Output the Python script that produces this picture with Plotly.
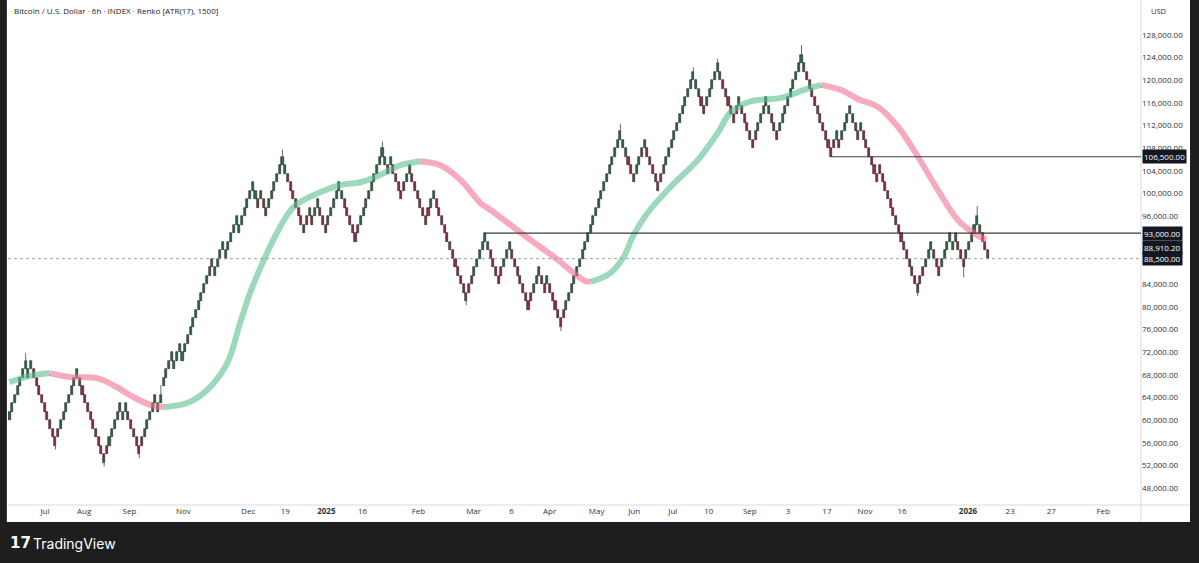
import plotly.graph_objects as go

# ---------------- data ----------------
BRICK = 1500
# Renko reversal levels (brick extremes)
pivots = [58500, 70500, 67500, 70500, 55500, 69000, 52500, 63000, 60000, 63000,
          54000, 64500, 61500, 64500, 72000, 69000, 73500, 70500, 88500, 85500,
          91500, 88500, 96000, 93000, 102000, 97500, 100500, 96000, 106500, 93000,
          97500, 94500, 99000, 93000, 102000, 91500, 108000, 103500, 106500, 99000,
          105000, 94500, 100500, 81000, 93000, 84000, 91500, 79500, 87000, 82500,
          85500, 76500, 111000, 102000, 109500, 100500, 121500, 114000, 123000, 112500,
          117000, 108000, 117000, 109500, 124500, 106500, 111000, 108000, 115500, 109500,
          112500, 102000, 105000, 82500, 91500, 85500, 93000, 90000, 93000, 87000,
          96000, 88500]

# wicks beyond the brick at a reversal: (pivot number, wick extreme)
wick_pivot = [1, 4, 6, 10, 13, 28, 36, 43, 51, 52, 56, 58, 64, 73, 79, 80]
wick_price = [71800, 54800, 51800, 53300, 66200, 107800, 109200, 80300, 75700, 112300,
              122300, 123800, 126200, 81900, 85200, 97800]

# smooth moving average, sampled (brick index, price)
ma_idx = [0, 7.6, 15, 22.4, 32.4, 39.8, 45.7, 52, 56.9, 65.7, 73.1, 80.6, 85.4, 89.1,
          92.8, 97.6, 105, 112.4, 122.4, 129.8, 137.2, 144.6, 152, 159.4, 166.9, 174.3,
          178, 190.2, 202.8, 212.4, 215, 222.4, 227.2, 230.9, 236.1, 244.6, 254.6, 262,
          266.9, 274.3, 285.4, 293.9, 300.2, 307.6, 313.9, 321.3, 328.7, 336.1, 343.5,
          350.9, 356.9, 361.3]
ma_val = [66700, 67800, 68300, 67600, 67400, 65800, 64100, 62700, 62300, 63000, 65300,
          70100, 77300, 82600, 86850, 91800, 97600, 99700, 101500, 102000, 103300, 105000,
          105700, 105000, 102400, 98300, 97100, 92700, 88300, 84700, 84400, 86000, 88800,
          92700, 96600, 101200, 105900, 110700, 114400, 116300, 116900, 118300, 119200,
          118300, 116700, 115300, 111800, 106500, 100600, 95300, 93000, 91800]

tick_idx = [13.1, 27.6, 44.4, 64.3, 88.3, 102, 117.2, 130.6, 151.3, 171.7, 185.7, 199.8,
            217.2, 231.1, 245.4, 258.7, 273.9, 288, 302.4, 316.5, 330.2, 354.6, 370.2,
            385.4, 404.6]
tick_text = ["Jul", "Aug", "Sep", "Nov", "Dec", "19", "<b>2025</b>", "16", "Feb", "Mar", "6",
             "Apr", "May", "Jun", "Jul", "10", "Sep", "3", "17", "Nov", "16", "<b>2026</b>",
             "23", "27", "Feb"]
price_ticks = [48000, 52000, 56000, 60000, 64000, 68000, 72000, 76000, 80000, 84000,
               96000, 100000, 104000, 108000, 112000, 116000, 120000, 124000, 128000]
level_lines = [106500, 93000]
level_line_pivot = [65, 44]
last_price = 88910.20
title_text = "Bitcoin / U.S. Dollar · 6h · INDEX · Renko [ATR(17), 1500]"

# ---------------- build bricks ----------------
bottoms, tops, closes, pivot_brick = [], [], [], [0]
for k in range(1, len(pivots)):
    a, b = pivots[k - 1], pivots[k]
    if b > a:
        for lo in range(a + BRICK, b - BRICK + 1, BRICK):
            bottoms.append(lo); tops.append(lo + BRICK); closes.append(lo + BRICK)
    else:
        for hi in range(a - BRICK, b + BRICK - 1, -BRICK):
            tops.append(hi); bottoms.append(hi - BRICK); closes.append(hi - BRICK)
    pivot_brick.append(len(closes) - 1)
N = len(closes)
idx = list(range(N))
last_close = closes[-1]

# colour bricks: close vs fast EMA
alpha = 2 / (8 + 1)
ema = closes[0]
is_green = []
for c in closes:
    ema = alpha * c + (1 - alpha) * ema
    is_green.append(c >= ema)

# axis geometry (plot area 8..1141 px, first brick 9.5 px, last 988 px)
W = (988 - 9.5) / (N - 1)
xmin = -(9.5 - 8) / W
xmax = (N - 1) + (1141 - 988) / W

fig = go.Figure()

# wicks
wx, wy = [], []
for pv, wp in zip(wick_pivot, wick_price):
    b = pivot_brick[pv]
    edge = tops[b] if wp > tops[b] else bottoms[b]
    wx += [b, b, None]
    wy += [edge, wp, None]
fig.add_trace(go.Scatter(x=wx, y=wy, mode="lines", line=dict(color="#6b6b6b", width=1),
                         hoverinfo="skip", showlegend=False))

GREEN, RED = "#2f6b46", "#922f42"
for flag, col in ((True, GREEN), (False, RED)):
    xs = [i for i in idx if is_green[i] == flag]
    fig.add_trace(go.Bar(
        x=xs, y=[tops[i] - bottoms[i] for i in xs], base=[bottoms[i] for i in xs],
        width=0.76, marker=dict(color=col, line=dict(color="#1b1b1b", width=0.6)),
        hoverinfo="skip", showlegend=False))

# moving average, green rising / pink falling
segs = []
cur = [0]
cur_up = ma_val[1] >= ma_val[0]
for i in range(1, len(ma_val)):
    up = ma_val[i] >= ma_val[i - 1]
    if up != cur_up:
        segs.append((cur_up, cur))
        cur = [i - 1]
        cur_up = up
    cur.append(i)
segs.append((cur_up, cur))
for up, ids in segs:
    fig.add_trace(go.Scatter(
        x=[ma_idx[i] for i in ids], y=[ma_val[i] for i in ids], mode="lines",
        line=dict(color="rgba(84,190,140,0.58)" if up else "rgba(238,110,140,0.58)",
                  width=6, shape="spline", smoothing=1.0),
        hoverinfo="skip", showlegend=False))

shapes = [
    dict(type="rect", xref="paper", yref="paper", x0=-0.001, x1=(1190 - 8) / 1133,
         y0=-(522 - 505) / 505, y1=1.0, fillcolor="white", line_width=0, layer="below"),
    dict(type="line", xref="paper", yref="paper", x0=0, x1=(1190 - 8) / 1133, y0=0, y1=0,
         line=dict(color="#d8dbe2", width=1)),
    dict(type="line", xref="paper", yref="paper", x0=1, x1=1, y0=-(522 - 505) / 505, y1=1,
         line=dict(color="#d8dbe2", width=1)),
    dict(type="line", xref="x", yref="y", x0=xmin, x1=xmax, y0=last_close, y1=last_close,
         line=dict(color="#9aa0aa", width=1, dash="dot")),
]
for lv, pv in zip(level_lines, level_line_pivot):
    shapes.append(dict(type="line", xref="x", yref="y", x0=pivot_brick[pv], x1=xmax,
                       y0=lv, y1=lv, line=dict(color="#3c3c3c", width=1.2)))

ann = [
    dict(text=title_text, xref="paper", yref="paper", x=(12 - 8) / 1133, y=1 - 10 / 505,
         xanchor="left", yanchor="middle", showarrow=False,
         font=dict(size=8, color="#222", family="Open Sans")),
    dict(text="USD", xref="paper", yref="paper", x=(1149 - 8) / 1133, y=1 - 11 / 505,
         xanchor="left", yanchor="middle", showarrow=False,
         font=dict(size=7.5, color="#333", family="Open Sans")),
    dict(text="<b>17</b>", xref="paper", yref="paper", x=(8 - 8) / 1133, y=-(543 - 505) / 505,
         xanchor="left", yanchor="middle", showarrow=False,
         font=dict(size=15, color="white", family="DejaVu Sans")),
    dict(text="TradingView", xref="paper", yref="paper", x=(31 - 8) / 1133, y=-(543 - 505) / 505,
         xanchor="left", yanchor="middle", showarrow=False,
         font=dict(size=14, color="white", family="Inter")),
]
# right-axis price labels; the live-price label is stacked above the last close label
for val, shift in [(106500, 0), (93000, 0), (last_price, 9), (last_close, 0)]:
    ann.append(dict(text=f"{val:,.2f}", xref="paper", yref="y", x=1.0, y=val,
                    xanchor="left", yanchor="middle", showarrow=False, xshift=1,
                    yshift=shift, bgcolor="#131722", borderpad=1,
                    font=dict(size=8, color="white", family="Open Sans")))

fig.update_layout(
    width=1199, height=563,
    margin=dict(l=8, r=58, t=0, b=58),
    paper_bgcolor="#1e1e1e", plot_bgcolor="white",
    barmode="overlay", bargap=0,
    shapes=shapes, annotations=ann,
    xaxis=dict(range=[xmin, xmax], tickvals=tick_idx, ticktext=tick_text, showgrid=False,
               zeroline=False, ticks="", showline=False,
               tickfont=dict(size=8, color="#333", family="Open Sans")),
    yaxis=dict(side="right", range=[45000, 134180], tickvals=price_ticks,
               ticktext=[f"{p:,.2f}" for p in price_ticks], showgrid=False,
               zeroline=False, ticks="", showline=False,
               tickfont=dict(size=8, color="#333", family="Open Sans")),
)
fig.write_html(
    "out.html",
    config={"displayModeBar": False},
    post_script="document.body.style.margin='0';document.body.style.background='#1e1e1e';",
)
